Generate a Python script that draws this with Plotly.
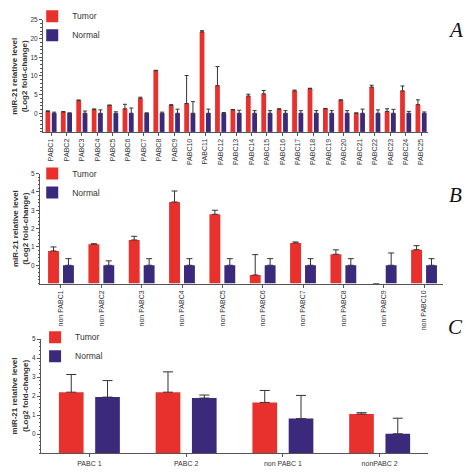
import plotly.graph_objects as go

# ---------------- data ----------------
cats_a = ["PABC1", "PABC2", "PABC3", "PABC4", "PABC5", "PABC6", "PABC7", "PABC8", "PABC9",
          "PABC10", "PABC11", "PABC12", "PABC13", "PABC14", "PABC15", "PABC16", "PABC17",
          "PABC18", "PABC19", "PABC20", "PABC21", "PABC22", "PABC23", "PABC24", "PABC25"]
tumor_a = [0.5, 0.35, 3.4, 1.0, 2.1, 1.2, 4.0, 11.4, 2.1, 2.6, 21.8, 7.4, 0.9,
           4.6, 5.2, 1.1, 6.0, 6.6, 1.2, 3.5, 0.0, 7.0, 0.5, 6.0, 2.3]
tumor_a_err = [0.15, 0.1, 0.15, 0.15, 0.1, 1.2, 0.3, 0.1, 0.2, 7.5, 0.3, 5.1, 0.1,
               0.5, 0.9, 0.1, 0.2, 0.1, 0.1, 0.1, 0.1, 0.5, 0.7, 1.3, 1.3]
normal_a = [0.0, 0.0, 0.0, 0.0, 0.0, 0.0, 0.0, 0.0, 0.0, 0.0, 0.0, 0.0, 0.0,
            0.0, 0.0, 0.0, 0.0, 0.0, 0.0, 0.0, 0.0, 0.0, 0.0, 0.0, 0.0]
normal_a_err = [0.3, 0.1, 0.6, 0.9, 0.4, 1.4, 0.1, 0.3, 1.1, 3.1, 1.1, 0.2, 0.8,
                0.7, 0.7, 0.7, 0.7, 0.7, 0.7, 0.7, 1.1, 0.9, 1.05, 0.5, 0.35]

cats_b = ["non PABC1", "non PABC2", "non PABC3", "non PABC4", "non PABC5",
          "non PABC6", "non PABC7", "non PABC8", "non PABC9", "non PABC10"]
tumor_b = [0.78, 1.15, 1.38, 3.45, 2.78, -0.53, 1.22, 0.60, -1.0, 0.85]
tumor_b_err = [0.22, 0.02, 0.20, 0.60, 0.22, 1.11, 0.05, 0.24, 0.0, 0.22]
normal_b = [0.0, 0.0, 0.0, 0.0, 0.0, 0.0, 0.0, 0.0, 0.0, 0.0]
normal_b_err = [0.36, 0.24, 0.36, 0.36, 0.36, 0.36, 0.36, 0.36, 0.67, 0.36]

cats_c = ["PABC 1", "PABC 2", "non PABC 1", "nonPABC 2"]
tumor_c = [2.21, 2.21, 1.67, 1.06]
tumor_c_err = [0.93, 1.07, 0.63, 0.07]
normal_c = [1.95, 1.90, 0.82, 0.02]
normal_c_err = [0.87, 0.16, 1.22, 0.82]

y_ticks_a = [0, 5, 10, 15, 20, 25]
y_ticks_bc = [0, 1, 2, 3, 4, 5]
y_min_a = -5
y_min_bc = -1

RED = "#e8302c"
BLUE = "#3b2a7c"
ERR = "#333333"
AX = "#555555"
FONT = "Liberation Sans"

fig = go.Figure()

# (cats, tumor, tumor err, normal, normal err, axis min, xaxis, yaxis, legend,
#  cap width, bar width, tumor offset, normal offset)
panels = [
    (cats_a, tumor_a, tumor_a_err, normal_a, normal_a_err, y_min_a, "x", "y", "legend",
     2, 0.31, -0.36, 0.05),
    (cats_b, tumor_b, tumor_b_err, normal_b, normal_b_err, y_min_bc, "x2", "y2", "legend2",
     3, 0.27, -0.32, 0.05),
    (cats_c, tumor_c, tumor_c_err, normal_c, normal_c_err, y_min_bc, "x3", "y3", "legend3",
     5, 0.255, -0.315, 0.06),
]
for cats, t, te, n, ne, base, xa, ya, lg, capw, bw, toff, noff in panels:
    for name, vals, errs, col, off in [("Tumor", t, te, RED, toff), ("Normal", n, ne, BLUE, noff)]:
        fig.add_trace(go.Bar(
            x=cats, y=[v - base for v in vals], base=base, name=name,
            width=bw, offset=off,
            marker=dict(color=col, line=dict(width=0)),
            error_y=dict(type="data", symmetric=False, array=errs,
                         arrayminus=[0 for _ in errs], color=ERR,
                         thickness=1, width=capw),
            xaxis=xa, yaxis=ya, legend=lg,
        ))

fig.update_layout(
    width=474, height=474, margin=dict(l=0, r=0, t=0, b=0),
    paper_bgcolor="white", plot_bgcolor="white",
    barmode="overlay",
    font=dict(family=FONT, size=7, color="#333333"),
    showlegend=True,
)

common_x = dict(showline=True, linecolor=AX, linewidth=1, ticks="outside", ticklen=3,
                tickcolor=AX, showgrid=False, zeroline=False, type="category",
                tickfont=dict(family=FONT, size=7, color="#333333"))
common_y = dict(showline=True, linecolor=AX, linewidth=1, ticks="outside", ticklen=3,
                tickcolor=AX, showgrid=False, zeroline=False,
                tickfont=dict(family=FONT, size=6.5, color="#333333"))

fig.update_layout(
    xaxis=dict(common_x, domain=[0.0907, 0.903], range=[-0.52, 24.45], anchor="y",
               tickangle=-90),
    yaxis=dict(common_y, domain=[0.7278, 0.9662], range=[-5, 25], anchor="x",
               tickvals=y_ticks_a, minor=dict(dtick=1, ticks="outside", ticklen=1.5,
                                              tickcolor=AX, showgrid=False)),
    xaxis2=dict(common_x, domain=[0.0844, 0.9346], range=[-0.52, 9.47], anchor="y2",
                tickangle=-90),
    yaxis2=dict(common_y, domain=[0.4051, 0.6392], range=[-1, 5], anchor="x2",
                tickvals=y_ticks_bc, minor=dict(dtick=0.2, ticks="outside", ticklen=1.5,
                                                tickcolor=AX, showgrid=False)),
    xaxis3=dict(common_x, domain=[0.0865, 0.903], range=[-0.5, 3.5], anchor="y3",
                tickangle=0),
    yaxis3=dict(common_y, domain=[0.0443, 0.2869], range=[-1, 5], anchor="x3",
                tickvals=y_ticks_bc, minor=dict(dtick=0.2, ticks="outside", ticklen=1.5,
                                                tickcolor=AX, showgrid=False)),
)

leg_common = dict(font=dict(family=FONT, size=8.5, color="#333333"), bgcolor="rgba(0,0,0,0)",
                  tracegroupgap=0, itemwidth=30, xanchor="left", yanchor="top",
                  orientation="v")
fig.update_layout(
    legend=dict(leg_common, x=0.068, y=1.005),
    legend2=dict(leg_common, x=0.068, y=0.67),
    legend3=dict(leg_common, x=0.074, y=0.322),
)

title = "<b>miR-21 relative level<br>(Log2 fold-change)</b>"
for ycen in [0.847, 0.523, 0.167]:
    fig.add_annotation(text=title, xref="paper", yref="paper", x=0.042, y=ycen,
                       textangle=-90, showarrow=False, xanchor="center", yanchor="middle",
                       font=dict(family=FONT, size=8, color="#333333"))

for letter, ly in [("A", 0.945), ("B", 0.593), ("C", 0.312)]:
    fig.add_annotation(text=f"<i>{letter}</i>", xref="paper", yref="paper", x=0.962, y=ly,
                       showarrow=False, xanchor="center", yanchor="middle",
                       font=dict(family="Liberation Serif", size=21, color="#111111"))

fig.write_html("out.html", config={"displayModeBar": False},
               post_script="document.body.style.margin='0px';")
